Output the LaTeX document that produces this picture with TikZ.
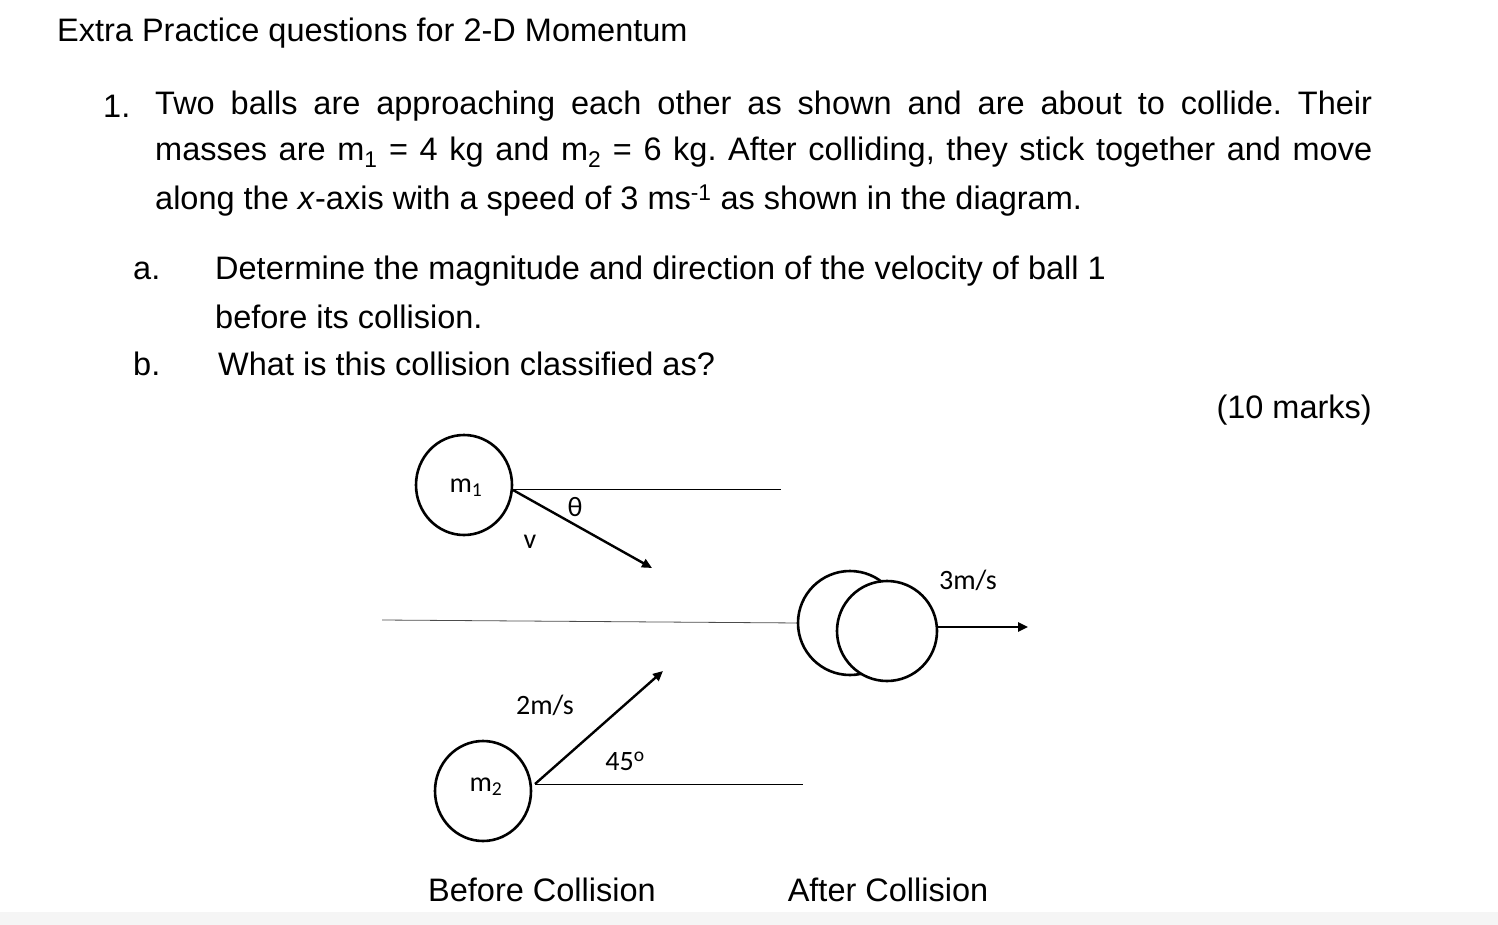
\documentclass[tikz,border=0pt]{standalone}
\usepackage{fontspec}
\setmainfont{Liberation Sans}
\newfontfamily\carfont{Carlito}
\usetikzlibrary{arrows.meta,shapes.geometric}
\begin{document}
\frenchspacing
\begin{tikzpicture}[x=1pt,y=-1pt,
  ball/.style={draw,line width=2.6pt,fill=white},
  thin/.style={line width=0.8pt},
  vec/.style={line width=2.4pt,-{Triangle[length=10pt,width=9pt]}},
  body/.style={anchor=west,inner sep=0pt,font=\fontsize{32.5}{36}\selectfont},
  lab/.style={inner sep=0pt,font=\carfont\fontsize{28}{32}\selectfont}]
\useasboundingbox (0,0) rectangle (1498,925);
\fill[black!4] (0,912) rectangle (1498,925);
\node[body] (title) at (57,33) {Extra Practice questions for 2-D Momentum};
\node[body] (n1) at (103,106) {1.};
\node[body] (l1) at (155,106) {\makebox[1217pt][s]{Two balls are approaching each other as shown and are about to collide. Their}};
\node[body] (l2) at (155,152) {\makebox[1217pt][s]{masses are m\textsubscript{1} = 4 kg and m\textsubscript{2} = 6 kg. After colliding, they stick together and move}};
\node[body] (l3) at (155,201) {along the \textit{x}-axis with a speed of 3 ms\textsuperscript{-1} as shown in the diagram.};
\node[body] (a) at (133,271) {a.};
\node[body] (at1) at (215,271) {Determine the magnitude and direction of the velocity of ball 1};
\node[body] (at2) at (215,317) {before its collision.};
\node[body] (b) at (133,364) {b.};
\node[body] (bt) at (218,364) {What is this collision classified as?};
\node[body,anchor=east] (marks) at (1372,410) {(10 marks)};
% top ball
\draw[thin] (512,489) -- (781,489);
\node[ball,ellipse,minimum width=96pt,minimum height=100pt,inner sep=0pt] (m1) at (464,485) {};
\node[lab] at (466,488) {m\textsubscript{1}};
\coordinate (p1) at (513,490);
\coordinate (e1) at (652,568);
\draw[vec] (p1) -- (e1);
\node[lab] at (575,507) {θ};
\node[lab] at (530,542) {v};
% middle
\draw[thin,black!70] (382,620) -- (800,623);
\node[ball,circle,minimum size=104pt,inner sep=0pt] (cA) at (850,623) {};
\node[ball,circle,minimum size=100pt,inner sep=0pt] (cB) at (887,631) {};
\coordinate (s3) at (937,627);
\coordinate (e3) at (1028,627);
\draw[vec] (s3) -- (e3);
\node[lab] at (968,580) {3m/s};
% bottom ball
\node[ball,ellipse,minimum width=96pt,minimum height=100pt,inner sep=0pt] (m2) at (483,791) {};
\node[lab] at (486,787) {m\textsubscript{2}};
\coordinate (p2) at (535,784);
\coordinate (e2) at (663,671);
\draw[thin] (p2) -- (803,784);
\draw[vec] (p2) -- (e2);
\node[lab] at (545,705) {2m/s};
\node[lab] at (625,761) {45\textsuperscript{o}};
\node[inner sep=0pt,font=\fontsize{32.5}{36}\selectfont] (bc) at (542,890) {Before Collision};
\node[inner sep=0pt,font=\fontsize{32.5}{36}\selectfont] (ac) at (888,890) {After Collision};
\end{tikzpicture}
\end{document}
